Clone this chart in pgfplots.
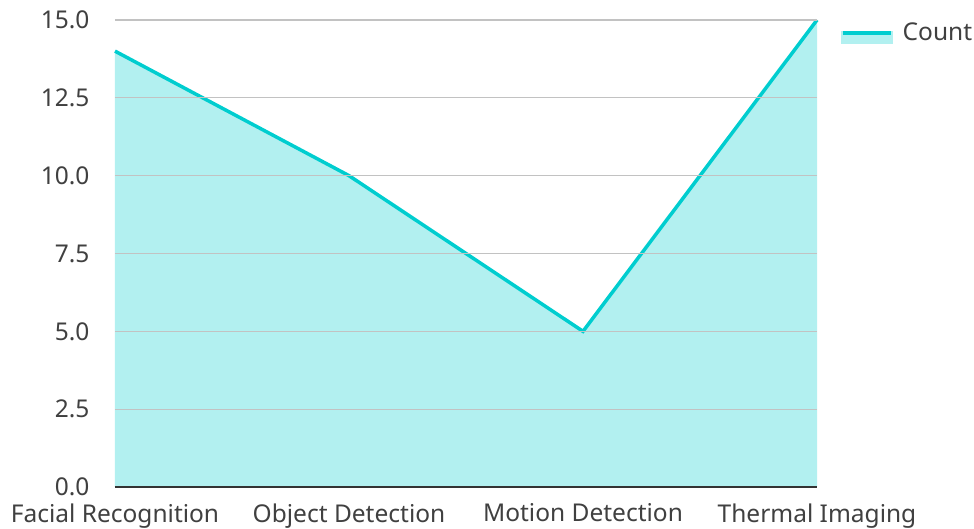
\documentclass[border=0pt]{standalone}
\usepackage{fontspec}
\setmainfont{Noto Sans}
\usepackage{pgfplots}
\pgfplotsset{compat=1.18}
\definecolor{linec}{HTML}{00CDCF}
\definecolor{fillc}{HTML}{B2F0F0}
\definecolor{txt}{HTML}{404040}
\begin{document}
\begin{tikzpicture}
\begin{axis}[
  name=ax,
  scale only axis, width=702pt, height=467pt,
  xmin=0, xmax=3, ymin=0, ymax=15,
  clip=false,
  axis on top,
  axis x line*=bottom, axis y line*=left,
  y axis line style={draw=none},
  x axis line style={draw=black!80, line width=1.8pt},
  xtick={0,1,2,3},
  xticklabels={Facial Recognition, Object Detection, Motion Detection, Thermal Imaging},
  ytick={0,2.5,5,7.5,10,12.5,15},
  ymajorgrids,
  major grid style={draw=black!24, line width=1.3pt},
  major tick length=0pt,
  tick label style={font=\fontsize{24.5}{28}\selectfont, text=txt},
  yticklabel style={xshift=-22pt, anchor=east, /pgf/number format/fixed, /pgf/number format/fixed zerofill, /pgf/number format/precision=1, /pgf/number format/assume math mode=true},
  xticklabel style={yshift=-13pt},
  legend style={at={(1,1)}, anchor=north west, xshift=21pt, yshift=1pt, draw=none, fill=none, font=\fontsize{24.5}{28}\selectfont\color{txt},
    /tikz/every odd column/.append style={column sep=8pt}},
  legend cell align=left,
]
\addplot[fill=fillc, draw=none, forget plot] coordinates {(0,14) (1,10) (2,5) (3,15)} \closedcycle;
\addplot[linec, line width=3.5pt, legend image code/.code={
  \fill[fillc] (0pt,-9pt) rectangle (48pt,0pt);
  \draw[linec, line width=3.5pt] (0pt,0pt) -- (48pt,0pt);}]
  coordinates {(0,14) (1,10) (2,5) (3,15)};
\addlegendentry{Count}
\end{axis}
\pgfresetboundingbox
\path ([xshift=-115pt,yshift=-42pt]ax.south west) rectangle ([xshift=157pt,yshift=20pt]ax.north east);
\end{tikzpicture}
\end{document}
